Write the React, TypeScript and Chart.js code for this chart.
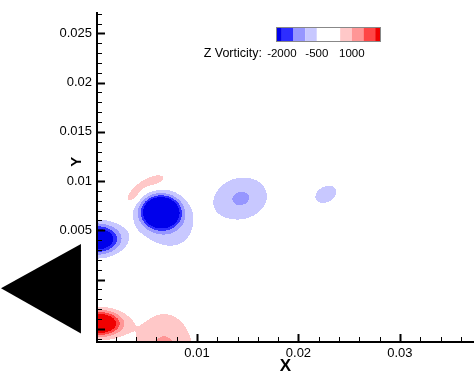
import React, { useEffect, useRef } from "react";
import { Chart, registerables } from "chart.js";

Chart.register(...registerables);

// Axis ranges and tick labels
const xRange = [0.00015, 0.0373];
const yRange = [-0.00634, 0.02709];
const xLabelTicks = [0.01, 0.02, 0.03];
const yLabelTicks = [0.005, 0.01, 0.015, 0.02, 0.025];
const xMinorStep = 0.002;
const yMinorStep = 0.001;

// Vortex patches making up the Z-vorticity field (data units)
const vortexX = [0.000148, 0.00645, 0.00704, 0.01433, 0.02271, 0.00025, 0.00675, 0.00379, 0.00576];
const vortexY = [0.00411, 0.00686, 0.00560, 0.00824, 0.00865, -0.00446, -0.00733, 0.00865, 0.01003];
const vortexStrength = [-3500, -6000, -800, -1080, -700, 4000, 1150, 950, 950];
const vortexSx = [0.00148, 0.00108, 0.00246, 0.00209, 0.00135, 0.00148, 0.00217, 0.00098, 0.00098];
const vortexSy = [0.00100, 0.00094, 0.00207, 0.00168, 0.00095, 0.00084, 0.00296, 0.00045, 0.00045];
const vortexAngle = [0, 0, -35, 15, 30, 0, 0, 50, 20];

// Contour levels and colours
const contourLevels = [-2000, -1500, -1000, -500, 500, 1000, 1500, 2000];
const contourRGB = [
  [0, 0, 235],
  [45, 45, 255],
  [150, 150, 255],
  [200, 200, 255],
  [255, 255, 255],
  [255, 200, 200],
  [255, 150, 150],
  [255, 70, 70],
  [240, 0, 0],
];
const legendRange = [-2250, 2250];
const legendLabels = [-2000, -500, 1000];
const legendTitle = "Z Vorticity:";

// Triangular body (data units)
const triangleX = [-0.00931, -0.00143, -0.00143];
const triangleY = [-0.00089, 0.00362, -0.00548];

const FONT = '"Liberation Sans", Arial, Helvetica, sans-serif';

function vorticity(x: number, y: number): number {
  let v = 0;
  for (let i = 0; i < vortexX.length; i++) {
    const a = (vortexAngle[i] * Math.PI) / 180;
    const dx = x - vortexX[i];
    const dy = y - vortexY[i];
    const u = (dx * Math.cos(a) + dy * Math.sin(a)) / vortexSx[i];
    const w = (-dx * Math.sin(a) + dy * Math.cos(a)) / vortexSy[i];
    v += vortexStrength[i] * Math.exp(-(u * u + w * w) / 2);
  }
  return v;
}

function levelIndex(v: number): number {
  let k = 0;
  for (const l of contourLevels) if (v > l) k++;
  return k;
}

const contourPlugin = {
  id: "contour",
  beforeDraw(chart: any) {
    const { ctx, chartArea: ca, scales } = chart;
    const xs = scales.x;
    const ys = scales.y;
    const left = Math.round(ca.left);
    const top = Math.round(ca.top);
    const w = Math.round(ca.right) - left;
    const h = Math.round(ca.bottom) - top;
    const off = document.createElement("canvas");
    off.width = w;
    off.height = h;
    const octx = off.getContext("2d")!;
    const img = octx.createImageData(w, h);
    for (let j = 0; j < h; j++) {
      const yv = ys.getValueForPixel(top + j + 0.5);
      for (let i = 0; i < w; i++) {
        const xv = xs.getValueForPixel(left + i + 0.5);
        const c = contourRGB[levelIndex(vorticity(xv, yv))];
        const p = (j * w + i) * 4;
        img.data[p] = c[0];
        img.data[p + 1] = c[1];
        img.data[p + 2] = c[2];
        img.data[p + 3] = 255;
      }
    }
    octx.putImageData(img, 0, 0);
    ctx.save();
    ctx.drawImage(off, left, top);
    ctx.restore();
  },
  afterDraw(chart: any) {
    const { ctx, chartArea: ca, scales } = chart;
    const xs = scales.x;
    const ys = scales.y;
    ctx.save();

    // triangle body
    ctx.fillStyle = "#000";
    ctx.beginPath();
    triangleX.forEach((tx, i) => {
      const px = xs.getPixelForValue(tx);
      const py = ys.getPixelForValue(triangleY[i]);
      if (i === 0) ctx.moveTo(px, py);
      else ctx.lineTo(px, py);
    });
    ctx.closePath();
    ctx.fill();

    // inward tick marks
    ctx.strokeStyle = "#000";
    const ky0 = Math.ceil(yRange[0] / yMinorStep - 1e-9);
    const ky1 = Math.floor(yRange[1] / yMinorStep + 1e-9);
    for (let k = ky0; k <= ky1; k++) {
      const major = k % 5 === 0;
      const py = Math.round(ys.getPixelForValue(k * yMinorStep)) + 0.5;
      ctx.lineWidth = major ? 2 : 1;
      ctx.beginPath();
      ctx.moveTo(ca.left, py);
      ctx.lineTo(ca.left + (major ? 8 : 5), py);
      ctx.stroke();
    }
    const kx0 = Math.ceil(xRange[0] / xMinorStep - 1e-9);
    const kx1 = Math.floor(xRange[1] / xMinorStep + 1e-9);
    for (let k = kx0; k <= kx1; k++) {
      const major = k % 5 === 0;
      const px = Math.round(xs.getPixelForValue(k * xMinorStep)) + 0.5;
      ctx.lineWidth = major ? 2 : 1;
      ctx.beginPath();
      ctx.moveTo(px, ca.bottom);
      ctx.lineTo(px, ca.bottom - (major ? 8 : 5));
      ctx.stroke();
    }

    // axis titles
    ctx.fillStyle = "#000";
    ctx.font = `bold 17px ${FONT}`;
    ctx.textAlign = "center";
    ctx.textBaseline = "middle";
    ctx.fillText("X", (ca.left + ca.right) / 2, ca.bottom + 24);
    ctx.save();
    ctx.translate(ca.left - 20, ca.top + 149);
    ctx.rotate(-Math.PI / 2);
    ctx.font = `bold 15px ${FONT}`;
    ctx.fillText("Y", 0, 0);
    ctx.restore();

    // colour legend
    const lx0 = 276;
    const lx1 = 381;
    const ly = 27;
    const lh = 15;
    const lp = (v: number) => lx0 + ((v - legendRange[0]) / (legendRange[1] - legendRange[0])) * (lx1 - lx0);
    const edges = [legendRange[0], ...contourLevels, legendRange[1]];
    for (let i = 0; i < contourRGB.length; i++) {
      const c = contourRGB[i];
      ctx.fillStyle = `rgb(${c[0]},${c[1]},${c[2]})`;
      const a = lp(edges[i]);
      const b = lp(edges[i + 1]);
      ctx.fillRect(a, ly, b - a, lh);
    }
    ctx.strokeStyle = "#888";
    ctx.lineWidth = 1;
    ctx.strokeRect(lx0 + 0.5, ly + 0.5, lx1 - lx0 - 1, lh - 1);
    ctx.fillStyle = "#000";
    ctx.font = `11.5px ${FONT}`;
    ctx.textBaseline = "middle";
    ctx.textAlign = "center";
    legendLabels.forEach((v) => ctx.fillText(String(v), lp(v), ly + lh + 12));
    ctx.font = `12.5px ${FONT}`;
    ctx.textAlign = "right";
    ctx.fillText(legendTitle, 262, ly + lh + 12);

    ctx.restore();
  },
};

export default function App() {
  const ref = useRef<HTMLCanvasElement>(null);
  useEffect(() => {
    const canvas = ref.current!;
    const chart = new Chart(canvas, {
      type: "scatter",
      data: { datasets: [] },
      options: {
        animation: false,
        responsive: true,
        maintainAspectRatio: false,
        layout: { padding: { top: 3, right: 0, bottom: 0, left: 0 } },
        plugins: { legend: { display: false }, tooltip: { enabled: false } },
        scales: {
          x: {
            type: "linear",
            min: xRange[0],
            max: xRange[1],
            grid: { display: false, drawTicks: false },
            border: { display: true, color: "#000", width: 2 },
            afterBuildTicks: (s: any) => {
              s.ticks = xLabelTicks.map((v) => ({ value: v }));
            },
            afterFit: (s: any) => {
              s.height = 32;
            },
            ticks: {
              color: "#000",
              font: { family: FONT, size: 13 },
              padding: 4,
              maxRotation: 0,
              autoSkip: false,
              callback: (v: any) => String(v),
            },
          },
          y: {
            type: "linear",
            min: yRange[0],
            max: yRange[1],
            grid: { display: false, drawTicks: false },
            border: { display: true, color: "#000", width: 2 },
            afterBuildTicks: (s: any) => {
              s.ticks = yLabelTicks.map((v) => ({ value: v }));
            },
            afterFit: (s: any) => {
              s.width = 97;
            },
            ticks: {
              color: "#000",
              font: { family: FONT, size: 13 },
              padding: 5,
              autoSkip: false,
              callback: (v: any) => String(v),
            },
          },
        },
      },
      plugins: [contourPlugin],
    });
    return () => chart.destroy();
  }, []);
  return (
    <div style={{ position: "fixed", left: 0, top: 0, width: 474, height: 374, background: "#fff" }}>
      <canvas ref={ref} />
    </div>
  );
}
